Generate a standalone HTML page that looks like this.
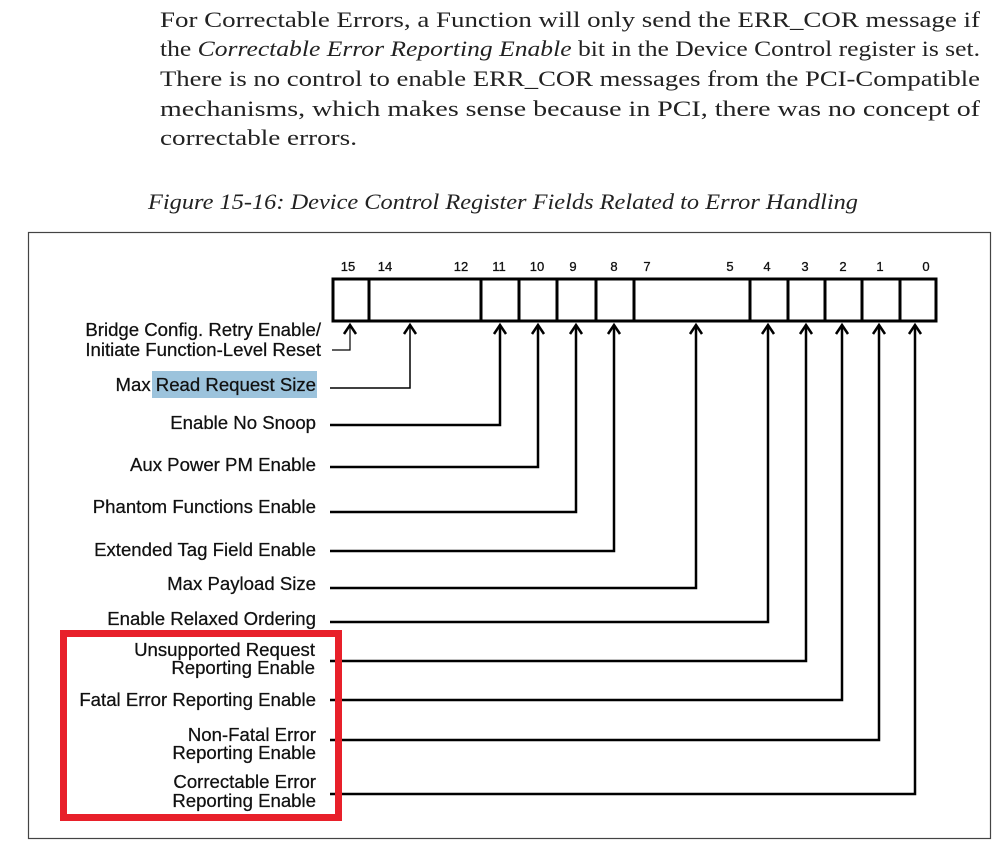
<!DOCTYPE html>
<html><head><meta charset="utf-8"><style>
html,body{margin:0;padding:0;background:#fff;}
svg{display:block;}
.p{font-family:"Liberation Serif",serif;font-size:22px;fill:#222;}
.s{font-family:"Liberation Sans",sans-serif;font-size:18.6px;fill:#111;stroke:#111;stroke-width:0.25;}
.n{font-family:"Liberation Sans",sans-serif;font-size:13px;fill:#111;stroke:#111;stroke-width:0.3;}
</style></head><body>
<svg width="992" height="847" viewBox="0 0 992 847" xmlns="http://www.w3.org/2000/svg">
<text class="p" x="160" y="27" textLength="820" lengthAdjust="spacingAndGlyphs">For Correctable Errors, a Function will only send the ERR_COR message if</text>
<text class="p" x="160" y="56" textLength="820" lengthAdjust="spacingAndGlyphs">the <tspan font-style="italic">Correctable Error Reporting Enable</tspan> bit in the Device Control register is set.</text>
<text class="p" x="160" y="86" textLength="820" lengthAdjust="spacingAndGlyphs">There is no control to enable ERR_COR messages from the PCI-Compatible</text>
<text class="p" x="160" y="116" textLength="820" lengthAdjust="spacingAndGlyphs">mechanisms, which makes sense because in PCI, there was no concept of</text>
<text class="p" x="160" y="145" textLength="197" lengthAdjust="spacingAndGlyphs">correctable errors.</text>
<text class="p" x="148" y="209" font-style="italic" textLength="710" lengthAdjust="spacingAndGlyphs">Figure 15-16: Device Control Register Fields Related to Error Handling</text>

<rect x="28.5" y="232.5" width="962" height="606" fill="none" stroke="#444" stroke-width="1.2"/>

<g class="n" text-anchor="middle">
<text x="348" y="271">15</text><text x="385" y="271">14</text><text x="461" y="271">12</text>
<text x="499" y="271">11</text><text x="537" y="271">10</text><text x="573" y="271">9</text>
<text x="614" y="271">8</text><text x="647" y="271">7</text><text x="730" y="271">5</text>
<text x="767" y="271">4</text><text x="805" y="271">3</text><text x="843" y="271">2</text>
<text x="880" y="271">1</text><text x="926" y="271">0</text>
</g>

<rect x="333" y="279" width="603" height="42" fill="none" stroke="#000" stroke-width="3"/>
<g stroke="#000" stroke-width="3">
<line x1="369" y1="279" x2="369" y2="321"/><line x1="481" y1="279" x2="481" y2="321"/>
<line x1="519" y1="279" x2="519" y2="321"/><line x1="557" y1="279" x2="557" y2="321"/>
<line x1="596" y1="279" x2="596" y2="321"/><line x1="634" y1="279" x2="634" y2="321"/>
<line x1="750" y1="279" x2="750" y2="321"/><line x1="788" y1="279" x2="788" y2="321"/>
<line x1="825" y1="279" x2="825" y2="321"/><line x1="862" y1="279" x2="862" y2="321"/>
<line x1="900" y1="279" x2="900" y2="321"/>
</g>

<rect x="152" y="371" width="165" height="27" fill="#9cc3dc"/>

<g class="s" text-anchor="end">
<text x="321" y="336">Bridge Config. Retry Enable/</text>
<text x="321" y="356">Initiate Function-Level Reset</text>
<text x="316" y="391">Max Read Request Size</text>
<text x="316" y="429">Enable No Snoop</text>
<text x="316" y="471">Aux Power PM Enable</text>
<text x="316" y="513">Phantom Functions Enable</text>
<text x="316" y="556">Extended Tag Field Enable</text>
<text x="316" y="590">Max Payload Size</text>
<text x="316" y="625">Enable Relaxed Ordering</text>
<text x="315" y="656">Unsupported Request</text>
<text x="315" y="674">Reporting Enable</text>
<text x="316" y="706">Fatal Error Reporting Enable</text>
<text x="316" y="741">Non-Fatal Error</text>
<text x="316" y="759">Reporting Enable</text>
<text x="316" y="788">Correctable Error</text>
<text x="316" y="807">Reporting Enable</text>
</g>

<g fill="none" stroke="#000">
<polyline stroke-width="1.2" points="332,350 350,350 350,326"/>
<polyline stroke-width="1.5" points="330,388 410,388 410,326"/>
<polyline stroke-width="2.5" points="330,425 500,425 500,326"/>
<polyline stroke-width="2.5" points="330,467 538,467 538,326"/>
<polyline stroke-width="2.5" points="330,512 576,512 576,326"/>
<polyline stroke-width="2.5" points="330,551 614,551 614,326"/>
<polyline stroke-width="2.5" points="330,588 696,588 696,326"/>
<polyline stroke-width="2.5" points="330,622 768,622 768,326"/>
<polyline stroke-width="2.5" points="330,661 806,661 806,326"/>
<polyline stroke-width="2.5" points="330,700 842,700 842,326"/>
<polyline stroke-width="2.5" points="330,740 879,740 879,326"/>
<polyline stroke-width="2.5" points="330,794 915,794 915,326"/>
</g>
<g fill="none" stroke="#000" stroke-width="2.5">
<polyline points="344,334 350,325 356,334"/>
<polyline points="404,334 410,325 416,334"/>
<polyline points="494,334 500,325 506,334"/>
<polyline points="532,334 538,325 544,334"/>
<polyline points="570,334 576,325 582,334"/>
<polyline points="608,334 614,325 620,334"/>
<polyline points="690,334 696,325 702,334"/>
<polyline points="762,334 768,325 774,334"/>
<polyline points="800,334 806,325 812,334"/>
<polyline points="836,334 842,325 848,334"/>
<polyline points="873,334 879,325 885,334"/>
<polyline points="909,334 915,325 921,334"/>
</g>

<rect x="63.5" y="633.5" width="275" height="184" fill="none" stroke="#e8202a" stroke-width="7"/>
</svg>
</body></html>
